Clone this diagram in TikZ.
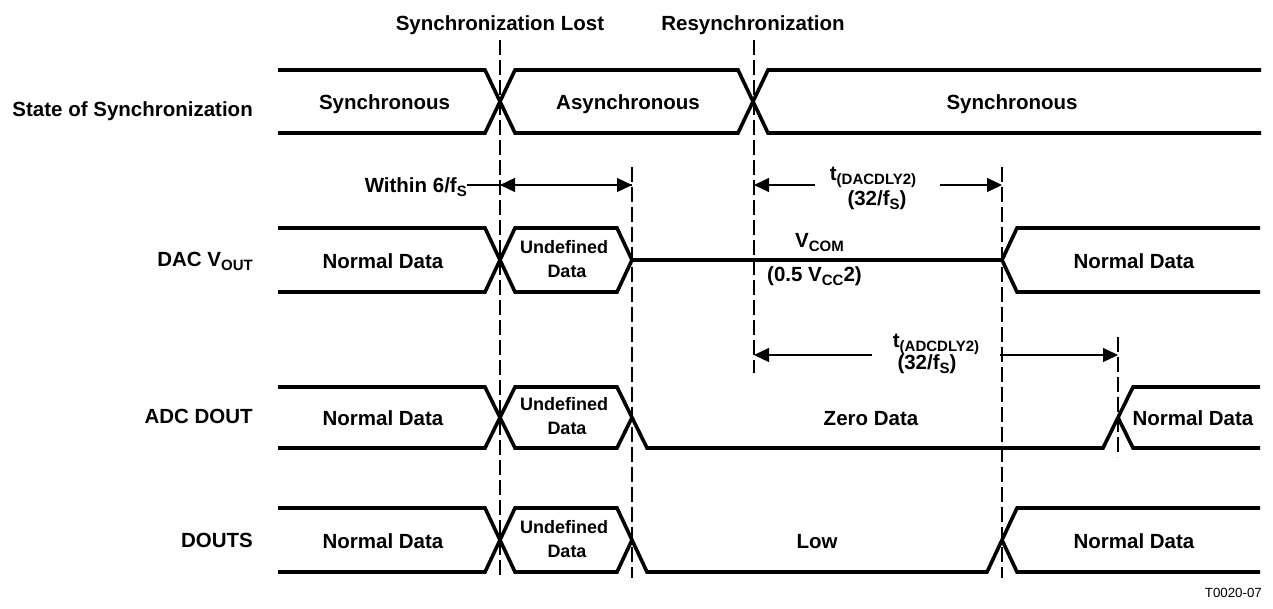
\documentclass[tikz,border=0pt]{standalone}
\usepackage{fontspec}
\setmainfont{Liberation Sans}
\usetikzlibrary{arrows.meta}
\newcommand\lowsub[1]{\raisebox{-0.45ex}{\fontsize{15}{15}\selectfont #1}}
\begin{document}
\begin{tikzpicture}[x=1pt,y=-1pt,
  sig/.style={line width=3.6pt, line cap=butt, line join=miter},
  guide/.style={line width=1.2pt, dash pattern=on 15pt off 5pt},
  dim/.style={line width=1.3pt},
  tip/.style={-{Triangle[length=15pt,width=14pt]}},
  lbl/.style={font=\bfseries\fontsize{20.5}{22}\selectfont, inner sep=0pt},
  txt/.style={font=\bfseries\fontsize{20.5}{22}\selectfont, inner sep=0pt, anchor=base},
  undef/.style={font=\bfseries\fontsize{18}{20}\selectfont, inner sep=0pt, anchor=base},
  small/.style={font=\fontsize{13.3}{15}\selectfont, inner sep=0pt, anchor=base east}]
\useasboundingbox (0,0) rectangle (1273,608);

% ---------- guide (dashed) lines ----------
\coordinate (g1t) at (500,40);  \coordinate (g1b) at (500,578);
\coordinate (g2t) at (754,40);  \coordinate (g2b) at (754,373);
\coordinate (g3t) at (632,167); \coordinate (g3b) at (632,578);
\coordinate (g4t) at (1002,167);\coordinate (g4b) at (1002,578);
\coordinate (g5t) at (1118,337);\coordinate (g5b) at (1118,457);
\draw[guide] (g1t) -- (g1b);
\draw[guide] (g2t) -- (g2b);
\draw[guide] (g3t) -- (g3b);
\draw[guide] (g4t) -- (g4b);
\draw[guide] (g5t) -- (g5b);

% ---------- top labels ----------
\node[txt] (lost) at (500,30) {Synchronization Lost};
\node[txt] (resync) at (753,30) {Resynchronization};

% ---------- row labels ----------
\node[lbl, anchor=base east] (l1) at (253,116) {State of Synchronization};
\node[lbl, anchor=base east] (l2) at (253,266) {DAC V\lowsub{OUT}};
\node[lbl, anchor=base east] (l3) at (253,423) {ADC DOUT};
\node[lbl, anchor=base east] (l4) at (253,547) {DOUTS};

% ---------- row 1: state of synchronization ----------
\draw[sig] (278,70) -- (485,70) -- (515,133) -- (738,133) -- (768,70) -- (1261,70);
\draw[sig] (278,133) -- (485,133) -- (515,70) -- (738,70) -- (768,133) -- (1261,133);
\node[txt] (s1) at (384.5,109) {Synchronous};
\node[txt] (s2) at (628,109) {Asynchronous};
\node[txt] (s3) at (1012,109) {Synchronous};

% ---------- row 2: DAC VOUT ----------
\draw[sig] (278,228) -- (485,228) -- (515,292) -- (617,292) -- (632,260) -- (1002,260) -- (1017,228) -- (1260,228);
\draw[sig] (278,292) -- (485,292) -- (515,228) -- (617,228) -- (632,260);
\draw[sig] (1002,260) -- (1017,292) -- (1260,292);
\node[txt] (d1) at (383,268) {Normal Data};
\node[undef] (d2a) at (564,253) {Undefined};
\node[undef] (d2b) at (567,277) {Data};
\node[txt, anchor=base west] (vcom) at (795,247) {V\lowsub{COM}};
\node[txt, anchor=base west] (vcc) at (767,281) {(0.5 V\lowsub{CC}2)};
\node[txt] (d3) at (1134,268) {Normal Data};

% ---------- row 3: ADC DOUT ----------
\draw[sig] (278,387) -- (485,387) -- (515,448) -- (617,448) -- (632,417.5);
\draw[sig] (278,448) -- (485,448) -- (515,387) -- (617,387) -- (647,448) -- (1103,448) -- (1133,387) -- (1260,387);
\draw[sig] (1118,417.5) -- (1133,448) -- (1260,448);
\node[txt] (a1) at (383,425) {Normal Data};
\node[undef] (a2a) at (564,410) {Undefined};
\node[undef] (a2b) at (567,434) {Data};
\node[txt] (a3) at (871,425) {Zero Data};
\node[txt] (a4) at (1193,425) {Normal Data};

% ---------- row 4: DOUTS ----------
\draw[sig] (278,508) -- (485,508) -- (515,572) -- (617,572) -- (632,540);
\draw[sig] (278,572) -- (485,572) -- (515,508) -- (617,508) -- (647,572) -- (987,572) -- (1017,508) -- (1260,508);
\draw[sig] (1002,540) -- (1017,572) -- (1260,572);
\node[txt] (o1) at (383,548) {Normal Data};
\node[undef] (o2a) at (564,533) {Undefined};
\node[undef] (o2b) at (567,557) {Data};
\node[txt] (o3) at (817,548) {Low};
\node[txt] (o4) at (1134,548) {Normal Data};

% ---------- timing dimensions ----------
% within 6/fs
\node[lbl, anchor=base east] (within) at (467,192) {Within 6/f\lowsub{S}};
\coordinate (w1) at (500,185);
\coordinate (w2) at (632,185);
\draw[dim] (within.east |- w1) -- (w1);
\draw[dim, tip] (w2) -- (w1);
\draw[dim, tip] (w1) -- (w2);

% t(DACDLY2)
\node[txt] (tdac) at (873,180) {t\lowsub{(DACDLY2)}};
\node[txt] (tdac2) at (877,205) {(32/f\lowsub{S})};
\coordinate (td1) at (754,185);
\coordinate (td2) at (1002,185);
\coordinate (tdL) at (815,185);
\coordinate (tdR) at (940,185);
\draw[dim, tip] (tdL) -- (td1);
\draw[dim, tip] (tdR) -- (td2);

% t(ADCDLY2)
\node[txt] (tadc) at (936,347) {t\lowsub{(ADCDLY2)}};
\node[txt] (tadc2) at (927,369) {(32/f\lowsub{S})};
\coordinate (ta1) at (754,355);
\coordinate (ta2) at (1118,355);
\coordinate (taL) at (872,355);
\coordinate (taR) at (1000,355);
\draw[dim, tip] (taL) -- (ta1);
\draw[dim, tip] (taR) -- (ta2);

% ---------- figure number ----------
\node[small] (fig) at (1262,597) {T0020-07};
\end{tikzpicture}
\end{document}
